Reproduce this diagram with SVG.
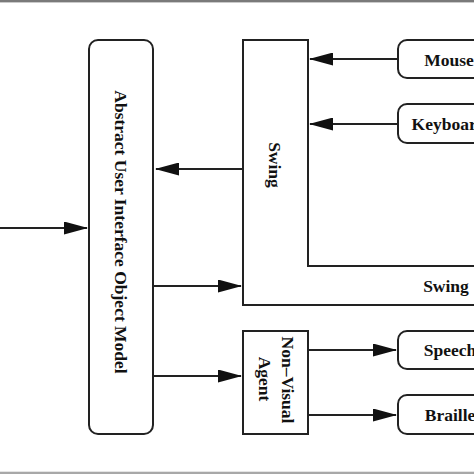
<svg xmlns="http://www.w3.org/2000/svg" width="474" height="474" viewBox="0 0 474 474">
<style>
.box{fill:#fff;stroke:#222;stroke-width:2}
.ln{fill:none;stroke:#222;stroke-width:1.8}
.t{font-family:"Liberation Serif","Times New Roman",serif;font-weight:bold;font-size:17.5px;fill:#111}
</style>
<defs>
<marker id="ah" markerUnits="userSpaceOnUse" markerWidth="24" markerHeight="13" refX="23" refY="6.5" orient="auto">
<path d="M0,0 L24,6.5 L0,13 z" fill="#111"/>
</marker>
</defs>
<rect x="0" y="0" width="474" height="474" fill="#fff"/>
<rect x="0" y="0" width="474" height="2.4" fill="#7a7a7a"/>
<rect x="0" y="471.7" width="474" height="2.3" fill="#a8a8a8"/>
<g id="connectors">
<line class="ln" x1="0" y1="228" x2="87" y2="228" marker-end="url(#ah)"/>
<line class="ln" x1="243" y1="169" x2="156" y2="169" marker-end="url(#ah)"/>
<line class="ln" x1="153" y1="286" x2="241" y2="286" marker-end="url(#ah)"/>
<line class="ln" x1="153" y1="376" x2="241" y2="376" marker-end="url(#ah)"/>
<line class="ln" x1="398" y1="59" x2="310" y2="59" marker-end="url(#ah)"/>
<line class="ln" x1="398" y1="124" x2="310" y2="124" marker-end="url(#ah)"/>
<line class="ln" x1="308" y1="350" x2="396" y2="350" marker-end="url(#ah)"/>
<line class="ln" x1="308" y1="415" x2="396" y2="415" marker-end="url(#ah)"/>
</g>
<g id="auiom">
<rect class="box" x="89" y="40" width="64" height="394" rx="9"/>
<text class="t" transform="translate(115,232) rotate(90)" text-anchor="middle">Abstract User Interface Object Model</text>
</g>
<g id="swing">
<path class="box" d="M243,40 H308 V266 H480 V305 H243 Z"/>
<text class="t" transform="translate(269,165) rotate(90)" text-anchor="middle">Swing</text>
<text class="t" x="446" y="292" text-anchor="middle">Swing</text>
</g>
<g id="mouse">
<rect class="box" x="398" y="40" width="110" height="38" rx="9"/>
<text class="t" x="449" y="66" text-anchor="middle">Mouse</text>
</g>
<g id="keyboard">
<rect class="box" x="398" y="104" width="110" height="39" rx="9"/>
<text class="t" x="449" y="130" text-anchor="middle">Keyboard</text>
</g>
<g id="nonvisual">
<rect class="box" x="243" y="331" width="65" height="103"/>
<text class="t" transform="translate(282,380) rotate(90)" text-anchor="middle">Non–Visual</text>
<text class="t" transform="translate(259,379) rotate(90)" text-anchor="middle">Agent</text>
</g>
<g id="speech">
<rect class="box" x="398" y="331" width="110" height="38" rx="9"/>
<text class="t" x="450" y="356" text-anchor="middle">Speech</text>
</g>
<g id="braille">
<rect class="box" x="398" y="395" width="110" height="39" rx="9"/>
<text class="t" x="450" y="421" text-anchor="middle">Braille</text>
</g>
</svg>
